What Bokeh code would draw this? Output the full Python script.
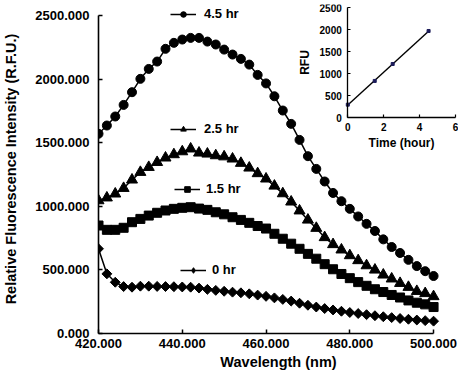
import numpy as np
from bokeh.plotting import figure
from bokeh.models import (Range1d, LinearAxis, FixedTicker, PrintfTickFormatter,
                          Legend, LegendItem)
from bokeh.embed import file_html
from bokeh.resources import INLINE

# ---------------- data ----------------
wavelength = list(range(420, 502, 2))
rfu_0hr = [666, 469, 403, 369, 364, 372, 372, 370, 369, 368, 366, 364, 357, 347, 339, 332,
           325, 320, 312, 302, 292, 280, 268, 255, 238, 222, 208, 196, 185, 175, 165, 157,
           148, 140, 132, 125, 118, 112, 106, 101, 97]
rfu_15hr = [849, 815, 815, 831, 875, 901, 927, 949, 967, 980, 988, 993, 982, 972, 953, 937,
            914, 893, 870, 845, 825, 784, 745, 706, 666, 626, 588, 545, 505, 468, 435, 404,
            375, 348, 326, 303, 283, 260, 242, 229, 208]
rfu_25hr = [1045, 1067, 1098, 1142, 1208, 1268, 1307, 1346, 1381, 1407, 1430, 1452, 1420,
            1412, 1399, 1390, 1373, 1339, 1302, 1258, 1216, 1160, 1100, 1035, 965, 893, 828,
            755, 700, 658, 613, 574, 534, 500, 461, 430, 395, 364, 332, 315, 291]
rfu_45hr = [1570, 1635, 1706, 1797, 1897, 2002, 2080, 2138, 2238, 2285, 2311, 2324, 2324,
            2295, 2272, 2232, 2193, 2159, 2114, 2033, 1966, 1865, 1753, 1648, 1522, 1394,
            1294, 1195, 1105, 1040, 980, 920, 862, 806, 740, 680, 633, 579, 530, 490, 452]
series_labels = ["4.5 hr", "2.5 hr", "1.5 hr", "0 hr"]
x_ticks = [420, 440, 460, 480, 500]
y_ticks = [0, 500, 1000, 1500, 2000, 2500]

inset_time = [0, 1.5, 2.5, 4.5]
inset_rfu = [292, 831, 1216, 1966]
inset_x_ticks = [0, 2, 4, 6]
inset_y_ticks = [0, 500, 1000, 1500, 2000, 2500]

# ---------------- layout (canvas pixels) ----------------
W, H = 458, 373
FL, FR, FT, FB = 97, 458, 4, 333          # frame edges
X0_PX, X500_PX = 97, 433                  # 420 nm and 500 nm
Y0_PX, Y2500_PX = 333, 15                 # 0 and 2500
ppx = (X500_PX - X0_PX) / 80.0
ppy = (Y0_PX - Y2500_PX) / 2500.0

FONT = "Liberation Sans"

p = figure(width=W, height=H, output_backend="svg", toolbar_location=None,
           x_range=Range1d(420, 420 + (FR - FL) / ppx),
           y_range=Range1d(0, 2500 + (Y2500_PX - FT) / ppy),
           min_border_left=FL, min_border_right=W - FR,
           min_border_top=FT, min_border_bottom=H - FB)
p.outline_line_color = None
p.grid.visible = False
p.background_fill_color = "white"
p.border_fill_color = "white"

# main axes
xa = p.xaxis[0]
xa.bounds = (420, 500)
xa.ticker = FixedTicker(ticks=x_ticks)
xa.formatter = PrintfTickFormatter(format="%.3f")
xa.axis_label = "Wavelength (nm)"
ya = p.yaxis[0]
ya.bounds = (0, 2500)
ya.ticker = FixedTicker(ticks=y_ticks)
ya.formatter = PrintfTickFormatter(format="%.3f")
ya.axis_label = "Relative Fluorescence Intensity (R.F.U.)"
for ax in (xa, ya):
    ax.axis_line_width = 1.6
    ax.axis_line_color = "black"
    ax.major_tick_in = 4
    ax.major_tick_out = 0
    ax.major_tick_line_width = 1.5
    ax.minor_tick_line_color = None
    ax.major_label_text_font = FONT
    ax.major_label_text_font_style = "bold"
    ax.major_label_text_font_size = "13px"
    ax.major_label_text_color = "black"
    ax.axis_label_text_font = FONT
    ax.axis_label_text_font_style = "bold"
    ax.axis_label_text_font_size = "14.5px"
    ax.axis_label_text_color = "black"
xa.major_label_standoff = 5
xa.axis_label_standoff = 3
ya.major_label_standoff = 9
ya.axis_label_standoff = 13

# series: (values, marker, size, angle, legend marker)
specs = [
    (rfu_45hr, "circle", 9, 0.0, "circle"),
    (rfu_25hr, "triangle", 11, 0.0, "triangle"),
    (rfu_15hr, "square", 9, 0.0, "square"),
    (rfu_0hr, "square", 7, np.pi / 4, "diamond"),
]
legend_items = []
for vals, marker, size, ang, lmarker in specs:
    lr = p.line(wavelength, vals, line_color="black", line_width=1.5)
    p.scatter(wavelength, vals, marker=marker, size=size, angle=ang,
              fill_color="black", line_color="black")
    # legend swatch renderer (hidden on the plot, drawn only in its legend)
    sw = p.scatter(wavelength, vals, marker=lmarker, size=size,
                   fill_color="black", line_color="black", visible=False)
    legend_items.append([lr, sw])

# inline legends (one per series), positions relative to frame bottom-left
legend_pos = [(72, 312, 8), (72, 197, 8), (76, 137, 6), (82, 56, 6)]
for rends, lab, (lx, ly, stand) in zip(legend_items, series_labels, legend_pos):
    lg = Legend(items=[LegendItem(label=lab, renderers=rends)],
                location=(lx, ly), orientation="vertical",
                padding=0, margin=0, spacing=0,
                glyph_width=26, glyph_height=14, label_height=14,
                label_standoff=stand, click_policy="none",
                border_line_color=None, background_fill_alpha=0,
                label_text_font=FONT, label_text_font_style="bold",
                label_text_font_size="13px", label_text_color="black")
    p.add_layout(lg, "center")

# ---------------- inset ----------------
IX0, IX6 = 347, 455          # canvas px for t=0 and t=6
IY0, IY2500 = 117, 7         # canvas px for 0 and 2500
ipx = (IX6 - IX0) / 6.0
ipy = (IY0 - IY2500) / 2500.0
p.extra_x_ranges = {"ix": Range1d(-(IX0 - FL) / ipx, (FR - IX0) / ipx)}
p.extra_y_ranges = {"iy": Range1d(-(FB - IY0) / ipy, 2500 + (IY2500 - FT) / ipy)}

ixa = LinearAxis(x_range_name="ix", y_range_name="iy", fixed_location=0,
                 bounds=(0, 6), ticker=FixedTicker(ticks=inset_x_ticks),
                 axis_label="Time (hour)")
iya = LinearAxis(x_range_name="ix", y_range_name="iy", fixed_location=0,
                 bounds=(0, 2500), ticker=FixedTicker(ticks=inset_y_ticks),
                 axis_label="RFU")
for ax in (ixa, iya):
    ax.axis_line_width = 1.3
    ax.axis_line_color = "black"
    ax.major_tick_in = 3
    ax.major_tick_out = 0
    ax.major_tick_line_width = 1.2
    ax.minor_tick_line_color = None
    ax.major_label_text_font = FONT
    ax.major_label_text_font_style = "bold"
    ax.major_label_text_font_size = "10px"
    ax.major_label_text_color = "black"
    ax.axis_label_text_font = FONT
    ax.axis_label_text_font_style = "bold"
    ax.axis_label_text_font_size = "12px"
    ax.axis_label_text_color = "black"
ixa.major_label_standoff = 5
ixa.axis_label_standoff = 2
iya.major_label_standoff = 6
iya.axis_label_standoff = 4
p.add_layout(ixa, "below")
p.add_layout(iya, "left")

slope, intercept = np.polyfit(inset_time, inset_rfu, 1)
fit_t = [min(inset_time), max(inset_time)]
fit_y = [slope * t + intercept for t in fit_t]
p.line(fit_t, fit_y, x_range_name="ix", y_range_name="iy",
       line_color="black", line_width=1.4)
p.scatter(inset_time, inset_rfu, x_range_name="ix", y_range_name="iy",
          marker="square", size=3, fill_color="#1c1c5a", line_color="#1c1c5a")

open("out.html", "w").write(file_html(p, INLINE))
